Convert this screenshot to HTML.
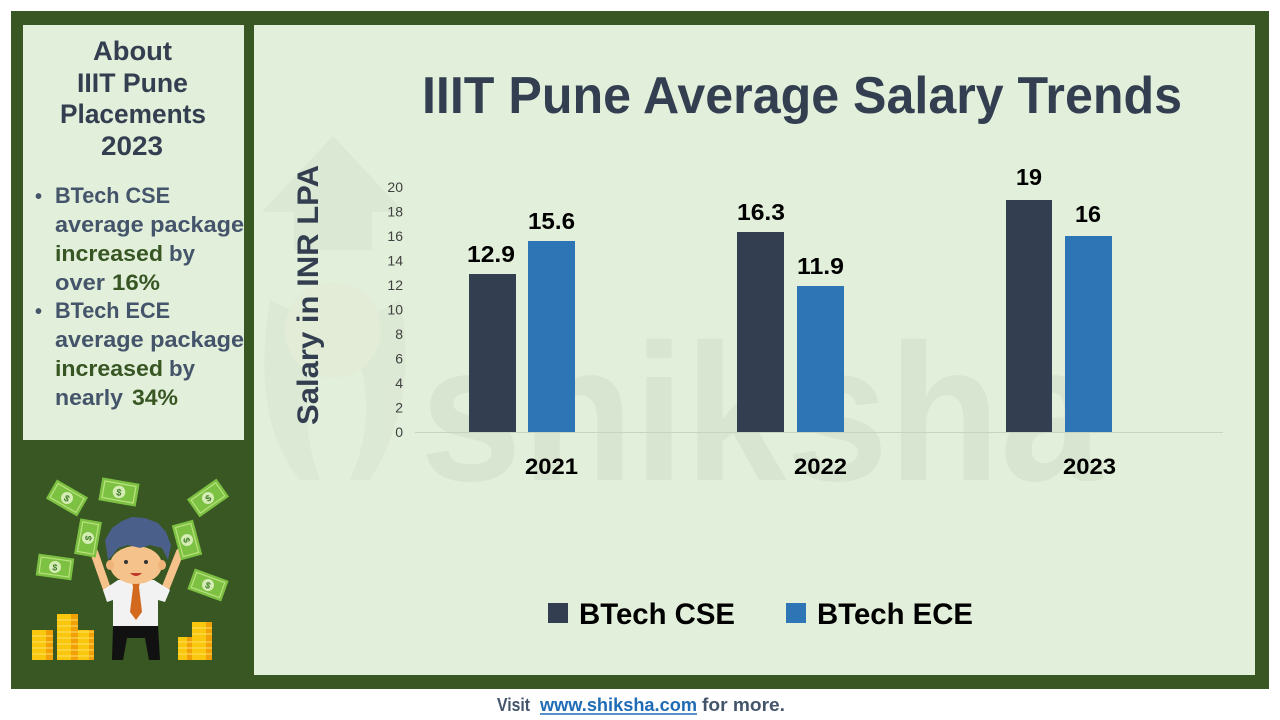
<!DOCTYPE html>
<html>
<head>
<meta charset="utf-8">
<style>
  html,body{margin:0;padding:0;background:#ffffff;}
  svg{display:block;}
  text{font-family:"Liberation Sans", sans-serif;font-weight:bold;}
</style>
</head>
<body>
<svg width="1280" height="720" viewBox="0 0 1280 720" xmlns="http://www.w3.org/2000/svg">
  <rect x="0" y="0" width="1280" height="720" fill="#ffffff"/>
  <!-- outer dark green frame -->
  <rect x="11" y="11" width="1258" height="678" fill="#385723"/>
  <!-- left info panel -->
  <rect x="23" y="25" width="221" height="415" fill="#E2EFDA"/>
  <!-- main panel -->
  <rect x="254" y="25" width="1001" height="650" fill="#E2EFDA"/>

  <!-- watermark -->
  <g opacity="0.45">
    <polygon points="262,212 333,136 404,212 372,212 372,250 294,250 294,212" fill="#D3DFCB"/>
    <path d="M270,300 Q250,420 300,480 L320,480 Q290,400 330,330 Z" fill="#D6E2CE"/>
    <path d="M400,300 Q420,400 370,480 L350,480 Q385,400 345,330 Z" fill="#D6E2CE"/>
    <circle cx="333" cy="330" r="48" fill="#E4E9D2"/>
  </g>
  <text x="420" y="480" font-size="195" textLength="682" lengthAdjust="spacingAndGlyphs" fill="#D3DFCB" opacity="0.6">shiksha</text>

  <!-- left panel heading -->
  <g fill="#333F50" text-anchor="start">
    <text x="93" y="60" font-size="27" textLength="79" lengthAdjust="spacingAndGlyphs">About</text>
    <text x="77" y="92" font-size="27" textLength="111" lengthAdjust="spacingAndGlyphs">IIIT Pune</text>
    <text x="60" y="123" font-size="27" textLength="146" lengthAdjust="spacingAndGlyphs">Placements</text>
    <text x="101" y="155" font-size="27" textLength="62" lengthAdjust="spacingAndGlyphs">2023</text>
  </g>
  <!-- bullets -->
  <g font-size="22">
    <text x="35" y="203" fill="#44546A" font-size="20">•</text>
    <text x="55" y="203" fill="#44546A" textLength="115" lengthAdjust="spacingAndGlyphs">BTech CSE</text>
    <text x="55" y="232" fill="#44546A" textLength="189" lengthAdjust="spacingAndGlyphs">average package</text>
    <text x="55" y="261" fill="#375623" textLength="108" lengthAdjust="spacingAndGlyphs">increased</text>
    <text x="169" y="261" fill="#44546A" textLength="26" lengthAdjust="spacingAndGlyphs">by</text>
    <text x="55" y="290" fill="#44546A" textLength="50" lengthAdjust="spacingAndGlyphs">over</text>
    <text x="112" y="290" fill="#375623" textLength="48" lengthAdjust="spacingAndGlyphs">16%</text>

    <text x="35" y="318" fill="#44546A" font-size="20">•</text>
    <text x="55" y="318" fill="#44546A" textLength="115" lengthAdjust="spacingAndGlyphs">BTech ECE</text>
    <text x="55" y="347" fill="#44546A" textLength="189" lengthAdjust="spacingAndGlyphs">average package</text>
    <text x="55" y="376" fill="#375623" textLength="108" lengthAdjust="spacingAndGlyphs">increased</text>
    <text x="169" y="376" fill="#44546A" textLength="26" lengthAdjust="spacingAndGlyphs">by</text>
    <text x="55" y="405" fill="#44546A" textLength="68" lengthAdjust="spacingAndGlyphs">nearly</text>
    <text x="132" y="405" fill="#375623" textLength="46" lengthAdjust="spacingAndGlyphs">34%</text>
  </g>

  <!-- Title -->
  <text x="422" y="113" font-size="52" fill="#333F50" textLength="760" lengthAdjust="spacingAndGlyphs">IIIT Pune Average Salary Trends</text>

  <!-- Y axis title -->
  <text transform="translate(318,425) rotate(-90)" x="0" y="0" font-size="30" fill="#333F50" textLength="260" lengthAdjust="spacingAndGlyphs">Salary in INR LPA</text>

  <!-- Y tick labels -->
  <g font-size="14" fill="#404040" text-anchor="end">
    <text x="403" y="437" style="font-weight:normal">0</text>
    <text x="403" y="412.5" style="font-weight:normal">2</text>
    <text x="403" y="388" style="font-weight:normal">4</text>
    <text x="403" y="363.5" style="font-weight:normal">6</text>
    <text x="403" y="339" style="font-weight:normal">8</text>
    <text x="403" y="314.5" style="font-weight:normal">10</text>
    <text x="403" y="290" style="font-weight:normal">12</text>
    <text x="403" y="265.5" style="font-weight:normal">14</text>
    <text x="403" y="241" style="font-weight:normal">16</text>
    <text x="403" y="216.5" style="font-weight:normal">18</text>
    <text x="403" y="192" style="font-weight:normal">20</text>
  </g>

  <!-- axis line -->
  <line x1="415" y1="432.5" x2="1223" y2="432.5" stroke="#C8D4C2" stroke-width="1"/>

  <!-- Bars -->
  <rect x="469" y="274" width="47" height="158" fill="#333F50"/>
  <rect x="528" y="241" width="47" height="191" fill="#2E75B6"/>
  <rect x="737" y="232" width="47" height="200" fill="#333F50"/>
  <rect x="797" y="286" width="47" height="146" fill="#2E75B6"/>
  <rect x="1006" y="200" width="46" height="232" fill="#333F50"/>
  <rect x="1065" y="236" width="47" height="196" fill="#2E75B6"/>

  <!-- data labels -->
  <g font-size="23" fill="#000000">
    <text x="467" y="262" textLength="48" lengthAdjust="spacingAndGlyphs">12.9</text>
    <text x="528" y="229" textLength="47" lengthAdjust="spacingAndGlyphs">15.6</text>
    <text x="737" y="220" textLength="48" lengthAdjust="spacingAndGlyphs">16.3</text>
    <text x="797" y="274" textLength="47" lengthAdjust="spacingAndGlyphs">11.9</text>
    <text x="1016" y="185" textLength="26" lengthAdjust="spacingAndGlyphs">19</text>
    <text x="1075" y="222" textLength="26" lengthAdjust="spacingAndGlyphs">16</text>
  </g>

  <!-- category labels -->
  <g font-size="22" fill="#000000">
    <text x="525" y="474" textLength="53" lengthAdjust="spacingAndGlyphs">2021</text>
    <text x="794" y="474" textLength="53" lengthAdjust="spacingAndGlyphs">2022</text>
    <text x="1063" y="474" textLength="53" lengthAdjust="spacingAndGlyphs">2023</text>
  </g>

  <!-- Legend -->
  <rect x="548" y="603" width="20" height="20" fill="#333F50"/>
  <text x="579" y="624" font-size="30" fill="#000000" textLength="156" lengthAdjust="spacingAndGlyphs">BTech CSE</text>
  <rect x="786" y="603" width="20" height="20" fill="#2E75B6"/>
  <text x="817" y="624" font-size="30" fill="#000000" textLength="156" lengthAdjust="spacingAndGlyphs">BTech ECE</text>

  <!-- Footer -->
  <text x="497" y="711" font-size="18" fill="#44546A" textLength="33" lengthAdjust="spacingAndGlyphs">Visit</text>
  <text x="540" y="711" font-size="18" fill="#1F6BB5" textLength="157" lengthAdjust="spacingAndGlyphs">www.shiksha.com</text>
  <line x1="540" y1="714" x2="697" y2="714" stroke="#1F6BB5" stroke-width="1.5"/>
  <text x="702" y="711" font-size="18" fill="#44546A" textLength="83" lengthAdjust="spacingAndGlyphs">for more.</text>

  <!-- Illustration -->
  <defs>
    <g id="bill">
      <rect x="-18" y="-11" width="36" height="22" fill="#7DC142"/>
      <rect x="-15" y="-8" width="30" height="16" fill="none" stroke="#B9E27F" stroke-width="1.2"/>
      <circle cx="0" cy="0" r="6" fill="#D5EDB5"/>
      <text x="0" y="3.5" font-size="9" text-anchor="middle" fill="#3F7A2A">$</text>
    </g>
  </defs>

  <!-- bills -->
  <use href="#bill" transform="translate(67,498) rotate(30)"/>
  <use href="#bill" transform="translate(119,492) rotate(10) scale(1.05)"/>
  <use href="#bill" transform="translate(208,498) rotate(-35)"/>
  <use href="#bill" transform="translate(55,567) rotate(8)"/>
  <use href="#bill" transform="translate(208,585) rotate(20)"/>

  <!-- man: arms -->
  <path d="M108,592 L94,552" stroke="#F6C28B" stroke-width="8" stroke-linecap="round"/>
  <path d="M164,592 L180,552" stroke="#F6C28B" stroke-width="8" stroke-linecap="round"/>
  <!-- hand bills -->
  <use href="#bill" transform="translate(88,538) rotate(-80)"/>
  <use href="#bill" transform="translate(187,540) rotate(75)"/>
  <!-- sleeves / torso -->
  <path d="M103,590 L118,580 L154,580 L170,590 L165,602 L158,600 L158,627 L113,627 L113,600 L107,602 Z" fill="#F2F2F2"/>
  <!-- tie -->
  <polygon points="132,582 140,582 139,587 142,612 136,620 130,612 133,587" fill="#D2691E"/>
  <!-- pants -->
  <path d="M113,626 L158,626 L160,660 L149,660 L145,638 L127,638 L123,660 L112,660 Z" fill="#111111"/>
  <!-- face -->
  <rect x="131" y="575" width="10" height="8" fill="#F0B47A"/>
  <ellipse cx="136" cy="565" rx="26" ry="19" fill="#F6C28B"/>
  <ellipse cx="110" cy="565" rx="4" ry="5" fill="#F0B47A"/>
  <ellipse cx="162" cy="565" rx="4" ry="5" fill="#F0B47A"/>
  <circle cx="126" cy="562" r="2" fill="#333"/>
  <circle cx="146" cy="562" r="2" fill="#333"/>
  <path d="M130,573 Q136,579 142,573 Z" fill="#C0392B"/>
  <!-- hair -->
  <path d="M108,560 L105,540 L112,528 L122,521 L132,517 L145,518 L158,523 L166,532 L171,545 L168,560 L162,548 L150,545 L140,548 L128,545 L118,548 L112,556 Z" fill="#4A5F8A"/>

  <!-- coin stacks -->
  <g>
    <rect x="32" y="630" width="21" height="30" fill="#F9C80E"/>
    <rect x="46" y="630" width="7" height="30" fill="#F2A007"/>
    <rect x="57" y="614" width="21" height="46" fill="#F9C80E"/>
    <rect x="71" y="614" width="7" height="46" fill="#F2A007"/>
    <rect x="78" y="630" width="16" height="30" fill="#F9C80E"/>
    <rect x="89" y="630" width="5" height="30" fill="#F2A007"/>
    <rect x="178" y="637" width="14" height="23" fill="#F9C80E"/>
    <rect x="187" y="637" width="5" height="23" fill="#F2A007"/>
    <rect x="192" y="622" width="20" height="38" fill="#F9C80E"/>
    <rect x="206" y="622" width="6" height="38" fill="#F2A007"/>
    <g stroke="#FFE066" stroke-width="1">
      <line x1="32" y1="636" x2="53" y2="636"/><line x1="32" y1="642" x2="53" y2="642"/><line x1="32" y1="648" x2="53" y2="648"/><line x1="32" y1="654" x2="53" y2="654"/>
      <line x1="57" y1="620" x2="78" y2="620"/><line x1="57" y1="626" x2="78" y2="626"/><line x1="57" y1="632" x2="94" y2="632"/><line x1="57" y1="638" x2="94" y2="638"/><line x1="57" y1="644" x2="94" y2="644"/><line x1="57" y1="650" x2="94" y2="650"/><line x1="57" y1="656" x2="94" y2="656"/>
      <line x1="192" y1="628" x2="212" y2="628"/><line x1="192" y1="634" x2="212" y2="634"/><line x1="178" y1="642" x2="212" y2="642"/><line x1="178" y1="648" x2="212" y2="648"/><line x1="178" y1="654" x2="212" y2="654"/>
    </g>
  </g>
</svg>
</body>
</html>
